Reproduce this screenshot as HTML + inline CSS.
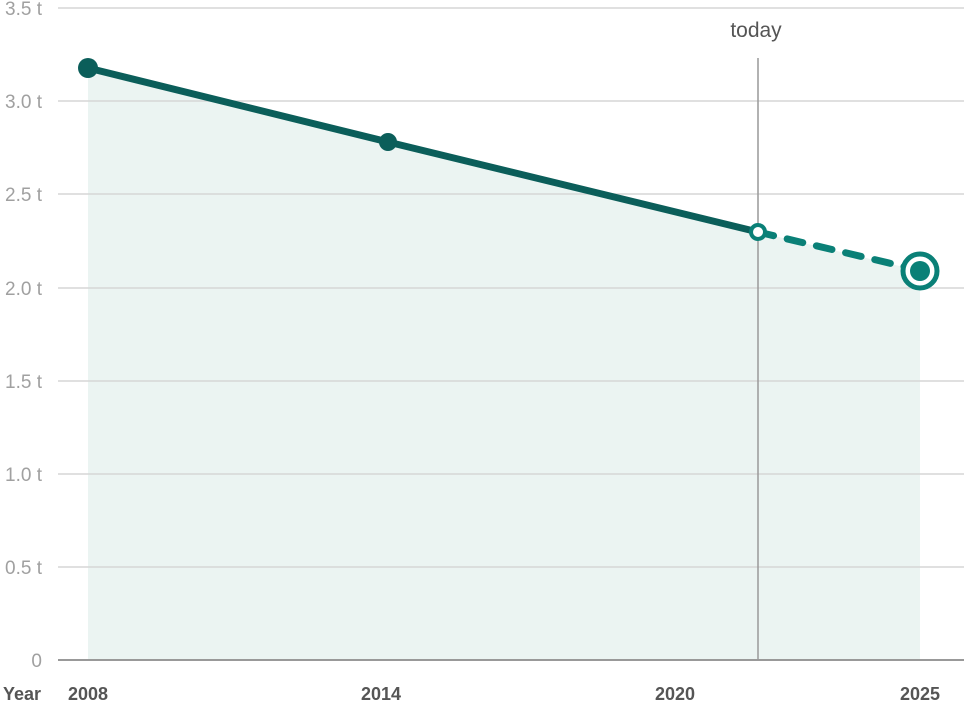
<!DOCTYPE html>
<html><head><style>body{margin:0;background:#fff}svg{display:block}</style></head><body>
<svg width="964" height="711" xmlns="http://www.w3.org/2000/svg" font-family="Liberation Sans, sans-serif">
<path d="M88,68 L388,142 L758,232 L920,271 L920,660 L88,660 Z" fill="#ebf4f2"/>
<g stroke="#d6d6d6" stroke-width="1.5">
<line x1="58" x2="964" y1="8" y2="8"/><line x1="58" x2="964" y1="101" y2="101"/>
<line x1="58" x2="964" y1="194" y2="194"/><line x1="58" x2="964" y1="288" y2="288"/>
<line x1="58" x2="964" y1="381" y2="381"/><line x1="58" x2="964" y1="474" y2="474"/>
<line x1="58" x2="964" y1="567" y2="567"/>
</g>
<line x1="58" x2="964" y1="660" y2="660" stroke="#999" stroke-width="2"/>
<g fill="#a0a0a0" font-size="19" text-anchor="end">
<text x="42" y="15">3.5 t</text><text x="42" y="108">3.0 t</text><text x="42" y="201">2.5 t</text>
<text x="42" y="295">2.0 t</text><text x="42" y="388">1.5 t</text><text x="42" y="481">1.0 t</text>
<text x="42" y="574">0.5 t</text><text x="42" y="667">0</text>
</g>
<g fill="#555" font-size="18" font-weight="bold" text-anchor="middle">
<text x="22" y="700">Year</text><text x="88" y="700">2008</text><text x="381" y="700">2014</text>
<text x="675" y="700">2020</text><text x="920" y="700">2025</text>
</g>
<line x1="758" x2="758" y1="58" y2="660" stroke="#999" stroke-width="1.5"/>
<text x="756" y="37" font-size="21" fill="#555" text-anchor="middle">today</text>
<polyline points="88,68 388,142 758,232" fill="none" stroke="#0b5e5a" stroke-width="7" stroke-linejoin="round"/>
<line x1="758" y1="232" x2="910" y2="268" stroke="#0a8077" stroke-width="7" stroke-dasharray="16,14" stroke-linecap="round"/>
<circle cx="88" cy="68" r="10" fill="#0b5e5a"/>
<circle cx="388" cy="142" r="9" fill="#0b5e5a"/>
<circle cx="758" cy="232" r="7" fill="#fff" stroke="#0a8077" stroke-width="4"/>
<circle cx="920" cy="271" r="17" fill="#fff" stroke="#0a8077" stroke-width="5"/>
<circle cx="920" cy="271" r="10" fill="#0a8077"/>
</svg>
</body></html>
